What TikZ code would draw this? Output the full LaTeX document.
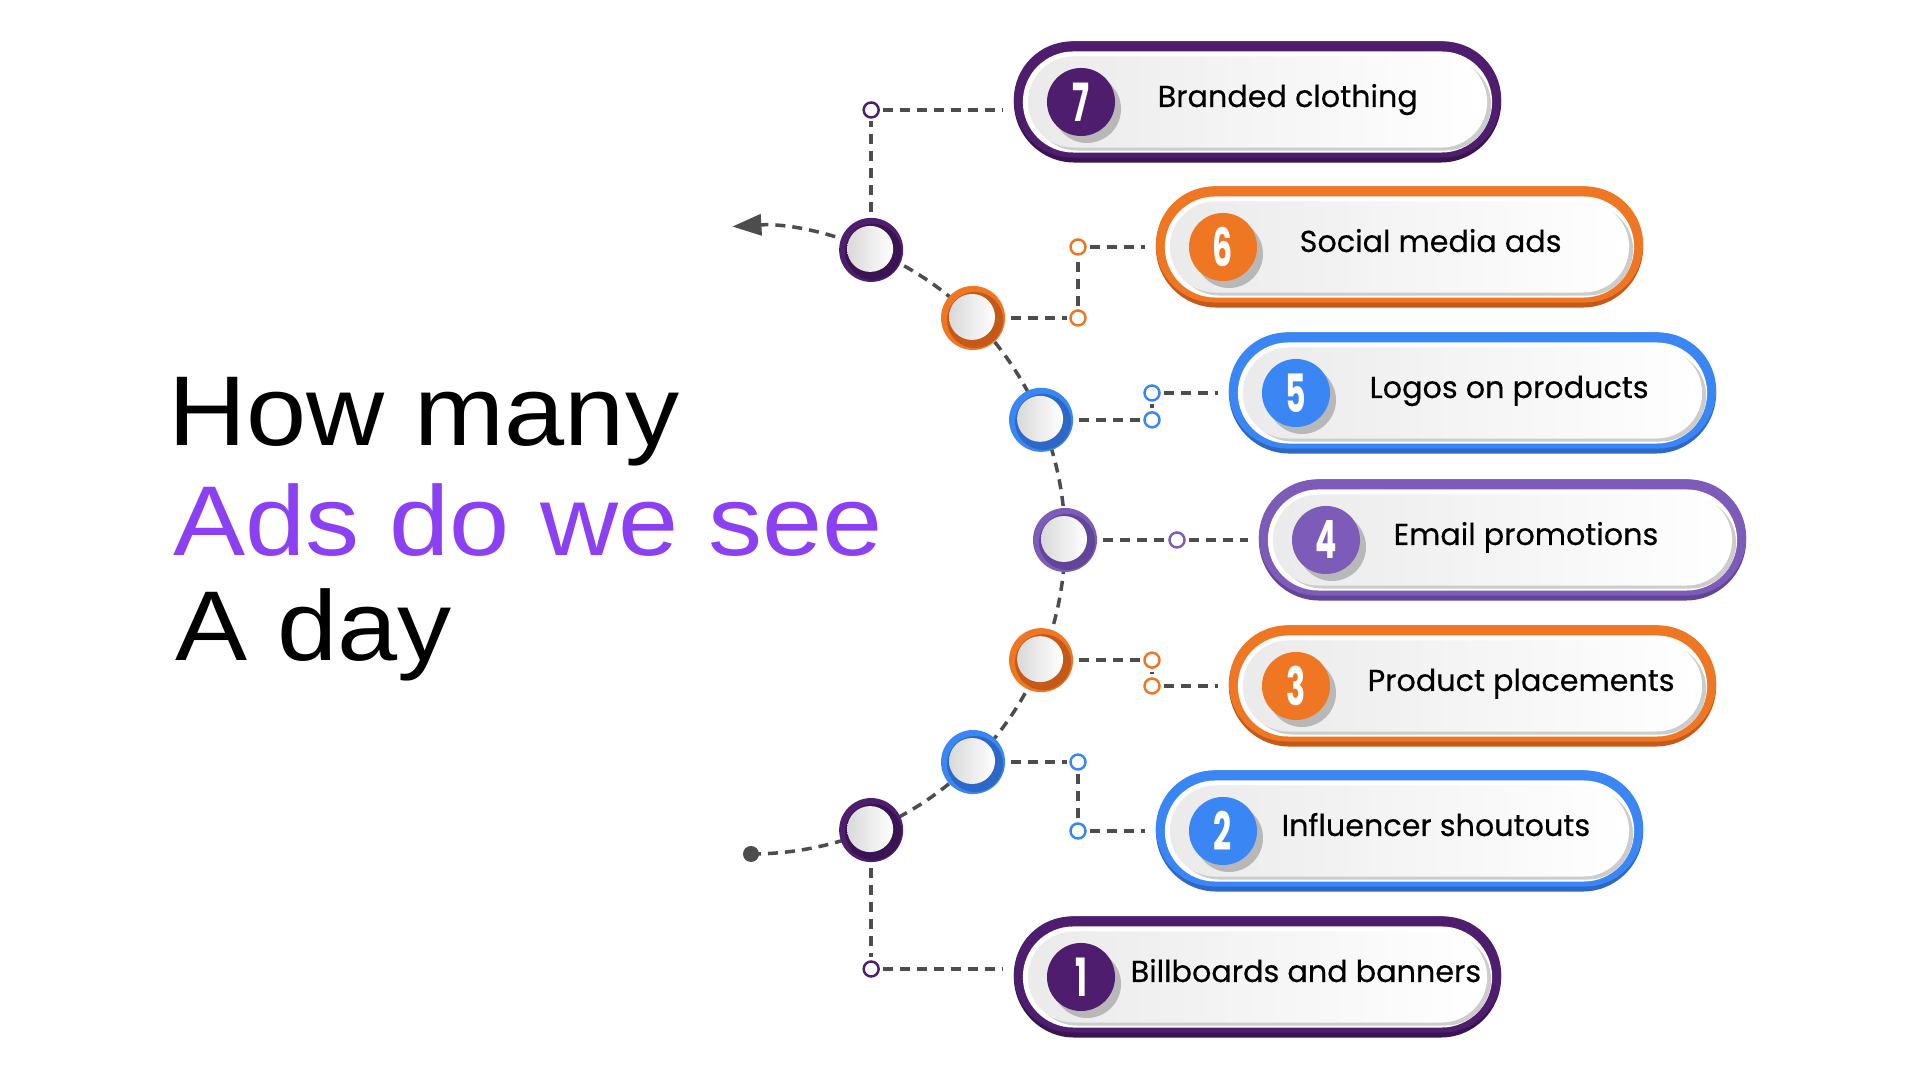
\documentclass[tikz,border=0pt]{standalone}
\usepackage{fontspec}
\setmainfont{Poppins}
\newfontfamily\titlefont{Liberation Sans}[FakeStretch=1.09]
\newfontfamily\numfont{Poppins}[FakeStretch=0.6]
\newfontfamily\itemfont{Poppins}[FakeBold=0.4]
\usepackage{xcolor}
\usetikzlibrary{shapes.misc,arrows.meta}

\definecolor{plum}{HTML}{4E1D6E}
\definecolor{plumdark}{HTML}{3A1352}
\definecolor{tangerine}{HTML}{EF7622}
\definecolor{tangerinedark}{HTML}{C4591A}
\definecolor{azure}{HTML}{3A86F5}
\definecolor{azuredark}{HTML}{2D68C6}
\definecolor{lilac}{HTML}{7D5BB8}
\definecolor{lilacdark}{HTML}{624598}
\definecolor{titleviolet}{HTML}{8C40F3}
\definecolor{dashgray}{HTML}{4D4D4D}

\begin{document}
\begin{tikzpicture}[x=0.01cm,y=-0.01cm,
    conn/.style={draw=dashgray, line width=1pt, dash pattern=on 0.1cm off 0.07cm},
    topill/.style={conn, shorten >=0.1cm},
    tap/.style={circle, draw=#1, fill=white, line width=0.7pt, minimum size=0.15cm, inner sep=0pt, outer sep=0.04cm},
    pill/.style={rounded rectangle, inner sep=0pt},
    title/.style={anchor=base west, inner sep=0pt, font=\titlefont\fontsize{28.2}{30}\selectfont}]
    \fill[white] (0,0) rectangle (1920,1080);
    \useasboundingbox (0,0) rectangle (1920,1080);

    % title
    \node[title] (how) at (168,446) {How many};
    \node[title, text=titleviolet] (ads) at (173,556) {Ads do we see};
    \node[title] (aday) at (175,661) {A day};

    % the arc with its hubs
    \coordinate (ctr) at (751,540);
    \node[circle, fill=dashgray, minimum size=0.16cm, inner sep=0pt] (dot) at (751,854) {};
    \draw[conn, -{Triangle[length=0.29cm,width=0.21cm]}] (dot.center) arc[start angle=90, end angle=-93.4, radius=314];
    \foreach \n/\a/\col/\dk in {1/67.5/plum/plumdark, 2/45/azure/azuredark, 3/22.5/tangerine/tangerinedark,
        4/0/lilac/lilacdark, 5/-22.5/azure/azuredark, 6/-45/tangerine/tangerinedark, 7/-67.5/plum/plumdark}{
        \node[circle, fill=\col, minimum size=0.64cm, inner sep=0pt, outer sep=0.06cm] (h\n) at ([shift={(\a:314)}]ctr) {};
        \fill[\dk] ([shift={(2,2)}]h\n.center) circle [radius=28];
        \shade[left color=black!15, right color=white] ([shift={(-1,-1)}]h\n.center) circle [radius=23];
    }

    % the seven items
    \foreach \n/\px/\py/\tx/\col/\dk/\txt in {7/1014/102/143/plum/plumdark/Branded clothing,
        6/1156/247/143/tangerine/tangerinedark/Social media ads,
        5/1229/393/140/azure/azuredark/Logos on products,
        4/1259/540/134/lilac/lilacdark/Email promotions,
        3/1229/686/138/tangerine/tangerinedark/Product placements,
        2/1156/831/125/azure/azuredark/Influencer shoutouts,
        1/1014/977/116/plum/plumdark/Billboards and banners}{
        \node[pill, fill=\dk, minimum width=4.87cm, minimum height=1.21cm] (p\n) at (\px+243.5,\py) {};
        \node[pill, fill=\col, minimum width=4.87cm, minimum height=1.16cm] at (\px+243.5,\py-2.5) {};
        \node[pill, fill=white, minimum width=4.69cm, minimum height=1.01cm] at (\px+243.5,\py) {};
        \node[pill, fill=black!20, minimum width=4.59cm, minimum height=0.91cm] at (\px+247.5,\py+3) {};
        \node[pill, left color=black!8, right color=white, minimum width=4.59cm, minimum height=0.91cm] at (\px+243.5,\py) {};
        \fill[black!28] (\px+73,\py+7) circle [radius=34];
        \node[circle, fill=\col, minimum size=0.68cm, inner sep=0pt, text=white,
            font=\numfont\bfseries\fontsize{15}{15}\selectfont] (n\n) at (\px+67,\py) {\n};
        \node[anchor=base west, inner sep=0pt, font=\itemfont\fontsize{8.6}{10}\selectfont] (t\n) at (\px+\tx,\py+5) {\txt};
    }

    % small taps and dashed links
    \node[tap=plum] (s7) at (h7 |- 0,110) {};
    \draw[conn] (h7) -- (s7);
    \draw[topill] (s7) -- (s7 -| p7.west);

    \node[tap=tangerine] (s6a) at (h6 -| 1078,0) {};
    \node[tap=tangerine] (s6b) at (p6 -| 1078,0) {};
    \draw[conn] (h6) -- (s6a);
    \draw[conn] (s6a) -- (s6b);
    \draw[topill] (s6b) -- (p6.west);

    \node[tap=azure] (s5a) at (h5 -| 1152,0) {};
    \node[tap=azure] (s5b) at (p5 -| 1152,0) {};
    \draw[conn] (h5) -- (s5a);
    \draw[conn] (s5a) -- (s5b);
    \draw[topill] (s5b) -- (p5.west);

    \node[tap=lilac] (s4) at (h4 -| 1177,0) {};
    \draw[conn] (h4) -- (s4);
    \draw[topill] (s4) -- (p4.west);

    \node[tap=tangerine] (s3a) at (h3 -| 1152,0) {};
    \node[tap=tangerine] (s3b) at (p3 -| 1152,0) {};
    \draw[conn] (h3) -- (s3a);
    \draw[conn] (s3a) -- (s3b);
    \draw[topill] (s3b) -- (p3.west);

    \node[tap=azure] (s2a) at (h2 -| 1078,0) {};
    \node[tap=azure] (s2b) at (p2 -| 1078,0) {};
    \draw[conn] (h2) -- (s2a);
    \draw[conn] (s2a) -- (s2b);
    \draw[topill] (s2b) -- (p2.west);

    \node[tap=plum] (s1) at (h1 |- 0,969) {};
    \draw[conn] (h1) -- (s1);
    \draw[topill] (s1) -- (s1 -| p1.west);
\end{tikzpicture}
\end{document}
